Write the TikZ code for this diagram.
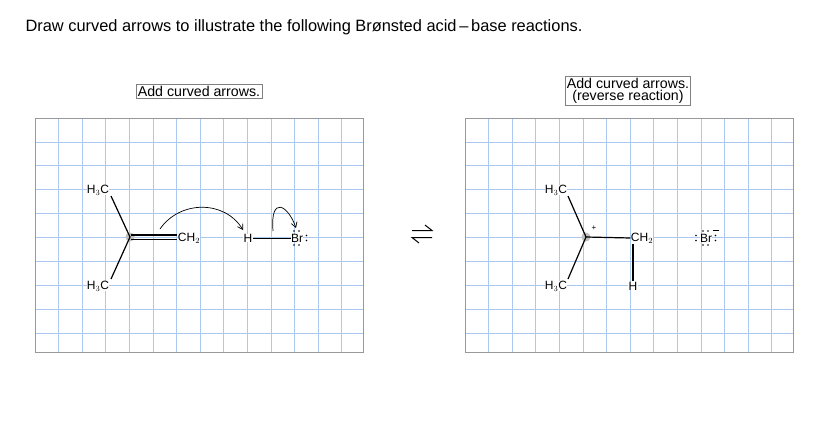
\documentclass[tikz,border=0pt]{standalone}
\usepackage{fontspec}
\setmainfont{Liberation Sans}
\usetikzlibrary{arrows.meta}
\begin{document}
\begin{tikzpicture}[x=1pt,y=-1pt,
  lbl/.style={font=\fontsize{12}{12}\selectfont,inner sep=0.3pt,fill=white},
  bond/.style={line width=1.2pt,black},
  grd/.style={draw={rgb,255:red,170;green,200;blue,240},line width=0.7pt},
  dot/.style={circle,fill=black,inner sep=0pt,minimum size=1.6pt},
  curv/.style={line width=0.7pt,-{Straight Barb[length=5pt,width=6pt]}},
  boxl/.style={draw=gray,inner sep=2pt,font=\fontsize{14.2}{14.5}\selectfont,align=center}]
\useasboundingbox (0,0) rectangle (821,439);
\node[anchor=west,font=\fontsize{16.4}{17}\selectfont] (title) at (22,27) {Draw curved arrows to illustrate the following Br\o nsted acid\,--\,base reactions.};
\node[boxl] (b1) at (199,91) {Add curved arrows.};
\node[boxl,inner sep=1.5pt] (b2) at (628,91) {Add curved arrows.\\[-2pt](reverse reaction)};
% grids
\foreach \ox in {35,465}{
  \foreach \i in {1,...,13}{\draw[grd] (\ox+\i*23.6,118) -- (\ox+\i*23.6,352);}
  \foreach \j in {1,...,9}{\draw[grd] (\ox,118+\j*23.9) -- (\ox+328,118+\j*23.9);}
  \draw[gray!80,line width=1pt] (\ox,118) rectangle (\ox+328,352);
}
% left molecule
\fill[gray!50] (130,237) circle (4.5);
\node[lbl] (lt) at (98,190) {H$_3$C};
\node[lbl] (lb) at (98,286) {H$_3$C};
\node[lbl] (lc) at (189,238) {CH$_2$};
\node[lbl] (lh) at (248,238) {H};
\node[lbl] (lbr) at (297,238) {Br};
\coordinate (c1) at (130,237);
\draw[bond] (c1) -- (111,196);
\draw[bond] (c1) -- (111,279);
\draw[bond] (131,235) -- (lc.west|-0,235);
\draw[bond] (131,239.5) -- (lc.west|-0,239.5);
\draw[line width=0.9pt] (lh.east) -- (lbr.west);
\node[dot] at (294,231) {};\node[dot] at (299,231) {};
\node[dot] at (294,245) {};\node[dot] at (299,245) {};
\node[dot] at (306.5,235.5) {};\node[dot] at (306.5,240.5) {};
\draw[curv] (160,229) .. controls (180,200) and (225,200) .. (243,230);
\draw[curv] (273,231) .. controls (270,195) and (288,205) .. (296,228);
% equilibrium
\draw[line width=1pt] (412,230.5) -- (432,230.5) -- (425,225);
\draw[line width=1pt] (432,237.5) -- (412,237.5) -- (419,243);
% right molecule
\fill[gray!50] (586,237) circle (4.5);
\node[lbl] (rt) at (556,190) {H$_3$C};
\node[lbl] (rb) at (556,286) {H$_3$C};
\node[lbl] (rc) at (642,238) {CH$_2$};
\node[lbl] (rh) at (633,286) {H};
\node[font=\fontsize{8}{8}\selectfont] (plus) at (594,228) {+};
\coordinate (c2) at (586,237);
\draw[bond] (c2) -- (568,196);
\draw[bond] (c2) -- (568,279);
\draw[bond] (c2) -- (rc.west);
\draw[bond] (633,244) -- (rh.north);
\node[lbl] (rbr) at (706,238) {Br};
\node[dot] at (696,235.5) {};\node[dot] at (696,240.5) {};
\node[dot] at (703,231) {};\node[dot] at (708,231) {};
\node[dot] at (703,245) {};\node[dot] at (708,245) {};
\node[dot] at (715.5,235.5) {};\node[dot] at (715.5,240.5) {};
\draw[line width=0.7pt] (713,230) -- (719,230);
\end{tikzpicture}
\end{document}
